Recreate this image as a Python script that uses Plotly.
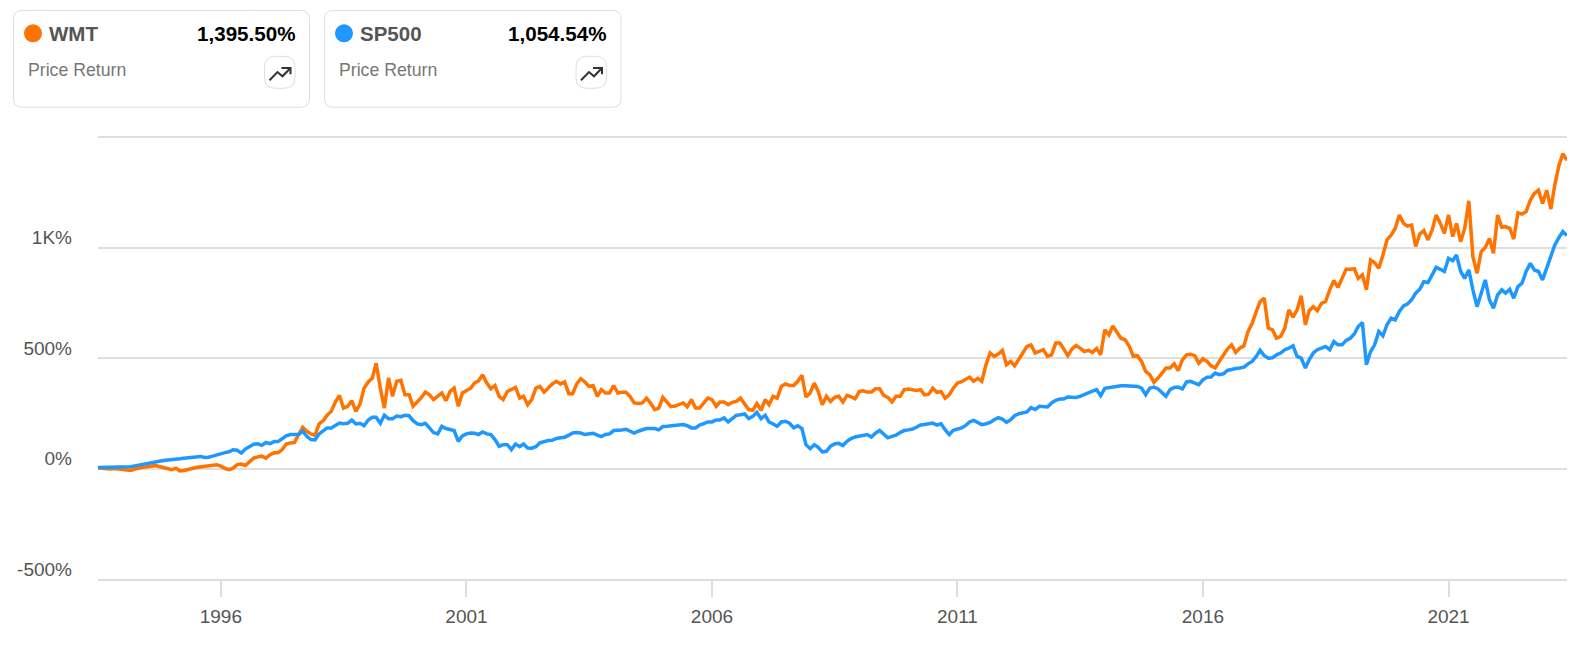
import pandas as pd
import plotly.graph_objects as go

# monthly readings, percent price return, Jul 1993 - Jun 2023
wmt = [
    3, 1, 0, -2, 0, -2,
    -3, -8, -9, -2, 3, 6, 8, 11, 14, 9, 5, 0,
    -5, 2, -11, -9, -3, 0, 5, 8, 11, 14, 15, 17,
    11, 0, -5, 2, 18, 20, 14, 32, 47, 53, 56, 47,
    63, 71, 71, 86, 111, 116, 118, 154, 187, 169, 157, 151,
    202, 217, 241, 259, 301, 331, 274, 282, 307, 259, 292, 364,
    392, 410, 477, 364, 274, 410, 327, 395, 399, 334, 334, 282,
    301, 322, 346, 334, 312, 327, 342, 307, 349, 364, 282, 342,
    352, 364, 387, 397, 425, 387, 361, 376, 327, 312, 349, 357,
    367, 319, 327, 289, 312, 364, 372, 346, 367, 383, 395, 383,
    392, 339, 339, 383, 407, 392, 372, 376, 327, 357, 342, 342,
    376, 342, 345, 345, 327, 297, 295, 297, 319, 297, 267, 274,
    322, 297, 280, 283, 289, 297, 280, 312, 274, 274, 297, 319,
    312, 282, 301, 301, 289, 300, 304, 319, 292, 267, 264, 294,
    264, 312, 289, 327, 319, 372, 383, 376, 376, 395, 422, 324,
    342, 387, 349, 289, 327, 304, 322, 327, 301, 331, 325, 316,
    349, 352, 346, 346, 361, 361, 331, 322, 301, 327, 327, 357,
    360, 355, 354, 357, 334, 337, 364, 345, 348, 319, 334, 364,
    387, 393, 405, 414, 395, 408, 395, 470, 523, 508, 518, 535,
    470, 485, 465, 492, 523, 553, 560, 523, 530, 538, 508, 515,
    568, 568, 542, 511, 541, 557, 545, 530, 535, 526, 544, 515,
    628, 605, 646, 620, 590, 583, 555, 508, 511, 485, 440, 425,
    390, 410, 432, 455, 455, 474, 443, 492, 515, 517, 511, 477,
    497, 485, 465, 455, 485, 515, 541, 560, 526, 545, 556, 620,
    658, 711, 756, 771, 636, 628, 590, 598, 636, 718, 685, 718,
    782, 651, 715, 733, 715, 748, 756, 809, 851, 820, 866, 902,
    902, 904, 861, 877, 809, 944, 932, 907, 967, 1035, 1057, 1087,
    1148, 1110, 1098, 1102, 1005, 1062, 1077, 1035, 1080, 1148, 1110, 1065,
    1148, 1050, 1110, 1027, 1087, 1212, 959, 884, 982, 1001, 1042, 974,
    1148, 1092, 1095, 1087, 1039, 1158, 1152, 1163, 1215, 1245, 1260, 1200,
    1260, 1175, 1280, 1370, 1425, 1395.5,
]
sp500 = [
    5, 5, 6, 7, 7, 7,
    6, 5, 8, 12, 16, 20, 24, 27, 30, 33, 36, 39,
    41, 44, 44, 47, 49, 50, 52, 55, 50, 51, 56, 62,
    69, 72, 76, 85, 83, 70, 88, 100, 110, 112, 105, 118,
    113, 122, 122, 135, 148, 154, 155, 154, 169, 146, 131, 130,
    157, 169, 184, 184, 196, 206, 203, 205, 220, 202, 205, 194,
    220, 232, 232, 205, 241, 226, 226, 238, 235, 241, 239, 217,
    202, 199, 205, 184, 163, 157, 191, 181, 175, 172, 123, 148,
    157, 161, 160, 154, 166, 157, 154, 131, 101, 108, 108, 86,
    111, 99, 111, 93, 92, 99, 116, 123, 127, 128, 136, 139,
    142, 151, 161, 163, 161, 154, 157, 160, 151, 145, 154, 157,
    172, 172, 175, 178, 169, 161, 169, 176, 181, 181, 181, 175,
    190, 191, 193, 197, 197, 199, 194, 184, 184, 197, 203, 211,
    211, 220, 220, 229, 211, 229, 241, 244, 247, 226, 236, 255,
    226, 241, 211, 202, 191, 211, 214, 205, 184, 194, 181, 108,
    90, 108, 96, 75, 78, 101, 111, 114, 104, 123, 136, 143,
    148, 151, 154, 143, 160, 172, 157, 139, 146, 151, 163, 172,
    175, 179, 187, 197, 199, 203, 206, 197, 203, 176, 154, 173,
    179, 184, 194, 211, 218, 209, 199, 203, 209, 221, 230, 224,
    209, 221, 239, 248, 251, 256, 276, 267, 282, 282, 279, 297,
    309, 315, 315, 324, 324, 322, 327, 336, 345, 351, 357, 330,
    363, 366, 369, 375, 375, 375, 375, 375, 372, 364, 334, 364,
    369, 360, 342, 327, 357, 367, 369, 360, 392, 395, 387, 380,
    402, 413, 414, 432, 425, 429, 444, 450, 453, 455, 459, 474,
    485, 508, 535, 511, 500, 501, 515, 523, 538, 545, 556, 508,
    500, 455, 492, 523, 538, 545, 553, 538, 575, 560, 560, 580,
    590, 610, 643, 661, 470, 530, 560, 620, 601, 651, 681, 673,
    711, 736, 745, 764, 794, 812, 846, 842, 881, 911, 902, 892,
    952, 941, 967, 892, 861, 899, 809, 733, 794, 854, 764, 726,
    786, 809, 794, 812, 771, 824, 839, 892, 929, 899, 892, 854,
    907, 967, 1010, 1045, 1073, 1054.54,
]
dates = pd.date_range("1993-07-01", periods=len(wmt), freq="MS")

y_ticks = [-500, 0, 500, 1000, 1500]
y_labels = ["-500%", "0%", "500%", "1K%", " "]

ORANGE = "#ff7300"
BLUE = "#1e98ff"
GRID = "#dedede"

# page has the default 8px body margin
OFF = 8
FIG_W, FIG_H = 1576, 646
# T sits a little above the 1500% line, plotly drops a grid line right on the edge
L, R, T, B = 98, 1567, 134.8, 579.5


def px(x):
    return (x - L) / (R - L)


def py(y):
    return (B - y) / (B - T)


def rrect(x0, y0, x1, y1, r):
    # rounded box as svg path, in paper coordinates
    a, b, c, d = px(x0), px(x1), py(y0), py(y1)
    rx, ry = r / (R - L), r / (B - T)
    return (f"M{a+rx},{c} L{b-rx},{c} Q{b},{c} {b},{c-ry} L{b},{d+ry} Q{b},{d} {b-rx},{d} "
            f"L{a+rx},{d} Q{a},{d} {a},{d+ry} L{a},{c-ry} Q{a},{c} {a+rx},{c} Z")


def poly(points):
    return "M" + " L".join(f"{px(x)},{py(y)}" for x, y in points)


shapes = []
annotations = []


def add_text(x, y, text, size, color, anchor="left", bold=False):
    annotations.append(dict(
        x=px(x), y=py(y), xref="paper", yref="paper", text=f"<b>{text}</b>" if bold else text,
        showarrow=False, xanchor=anchor, yanchor="middle",
        font=dict(family="Liberation Sans", size=size, color=color), borderpad=0, borderwidth=0))


def add_card(x0, x1, color, name, value):
    shapes.append(dict(type="path", xref="paper", yref="paper", path=rrect(x0, 10, x1, 107, 9),
                       line=dict(color="#dedede", width=1), fillcolor="white"))
    shapes.append(dict(type="circle", xref="paper", yref="paper", x0=px(x0 + 10.5), x1=px(x0 + 28.5),
                       y0=py(42), y1=py(24), fillcolor=color, line=dict(width=0)))
    add_text(x0 + 35, 33, name, 20.5, "#555555", bold=True)
    add_text(x1 - 15, 33, value, 20.6, "#000000", anchor="right", bold=True)
    add_text(x0 + 14, 70, "Price Return", 17.7, "#777777")
    # little chart button
    bx = x1 - 45
    shapes.append(dict(type="path", xref="paper", yref="paper", path=rrect(bx, 56, bx + 30.5, 88, 11),
                       line=dict(color="#dedede", width=1), fillcolor="white"))
    shapes.append(dict(type="path", xref="paper", yref="paper",
                       path=poly([(bx + 5, 80), (bx + 13, 71.7), (bx + 18, 76), (bx + 26, 67.7)]),
                       line=dict(color="#333333", width=2)))
    shapes.append(dict(type="path", xref="paper", yref="paper",
                       path=poly([(bx + 17, 67.7), (bx + 26, 67.7), (bx + 26, 74)]),
                       line=dict(color="#333333", width=2)))


add_card(13.5, 309.5, ORANGE, "WMT", "1,395.50%")
add_card(324.5, 621, BLUE, "SP500", "1,054.54%")

fig = go.Figure()
fig.add_trace(go.Scatter(x=dates, y=wmt, name="WMT", mode="lines",
                         line=dict(color=ORANGE, width=3.5)))
fig.add_trace(go.Scatter(x=dates, y=sp500, name="SP500", mode="lines",
                         line=dict(color=BLUE, width=3.5)))

fig.update_layout(
    width=FIG_W, height=FIG_H,
    margin=dict(l=L - OFF, r=FIG_W + OFF - R, t=T - OFF, b=FIG_H + OFF - B, pad=0),
    paper_bgcolor="white", plot_bgcolor="white",
    showlegend=False,
    font=dict(family="Liberation Sans", size=19, color="#555555"),
    shapes=shapes, annotations=annotations,
)
fig.update_xaxes(
    automargin=False,
    range=[dates[0], dates[-1]],
    tick0="1996-01-01", dtick="M60", tickformat="%Y",
    ticks="outside", ticklen=16, tickwidth=1.5, tickcolor=GRID,
    showgrid=False, showline=True, linecolor=GRID, linewidth=2,
    ticklabelstandoff=3,
    tickfont=dict(size=19, color="#555555"),
)
fig.update_yaxes(
    automargin=False,
    range=[-500, 1510],
    tickvals=y_ticks, ticktext=y_labels,
    showgrid=True, gridcolor=GRID, gridwidth=1.5, zeroline=False,
    ticks="", ticklabelstandoff=25, ticklabelshift=-10,
    tickfont=dict(size=19, color="#555555"),
)

fig.write_html("out.html")
